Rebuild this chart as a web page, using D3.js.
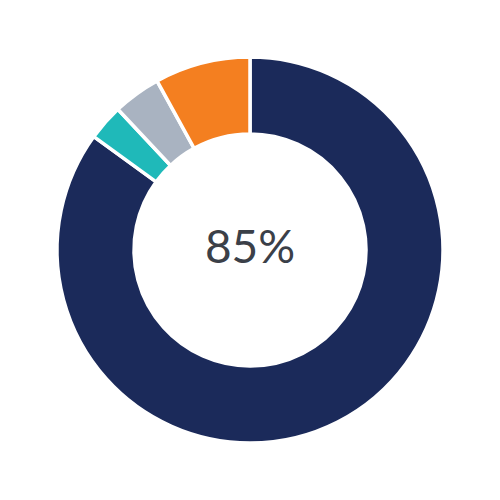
<!DOCTYPE html>
<html>
<head>
<meta charset="utf-8">
<script src="https://cdn.jsdelivr.net/npm/d3@7"></script>
<style>
  body { margin: 0; background: #fff; }
  svg { display: block; }
</style>
</head>
<body>
<svg id="chart"></svg>
<script>
  // slice data, clockwise from 12 o'clock
  const labels = ["Main", "Teal", "Gray", "Orange"]
  const values = [85, 3, 4, 8]
  const colors = ["#1b2a5a", "#1fb9b9", "#a9b3c1", "#f47f20"]
  const centerLabel = "85%"

  const width = 500
  const height = 500
  const outerR = 193
  const innerR = 116

  const svg = d3.select("#chart")
      .attr("width", width)
      .attr("height", height)

  const g = svg.append("g")
      .attr("transform", `translate(${width / 2}, ${height / 2})`)

  const pie = d3.pie().sort(null).value(d => d)
  const arc = d3.arc().innerRadius(innerR).outerRadius(outerR)

  g.selectAll("path")
      .data(pie(values))
      .enter().append("path")
      .attr("d", arc)
      .attr("fill", (d, i) => colors[i])
      .attr("stroke", "#fff")
      .attr("stroke-width", 3.5)

  g.append("text")
      .attr("text-anchor", "middle")
      .attr("y", 13)
      .attr("font-family", "Lato, sans-serif")
      .attr("font-size", 46)
      .attr("fill", "#3b4048")
      .text(centerLabel)
</script>
</body>
</html>
